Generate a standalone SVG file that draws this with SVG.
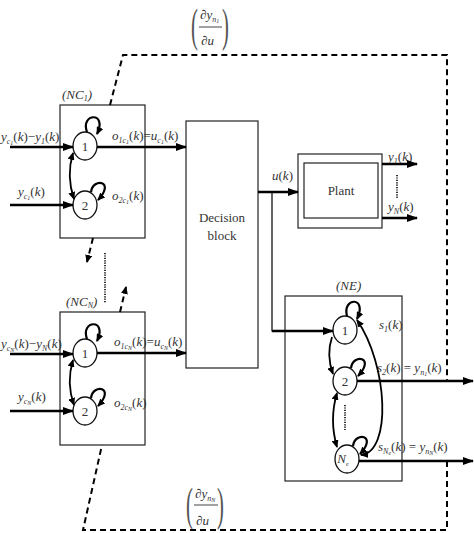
<svg xmlns="http://www.w3.org/2000/svg" width="474" height="533" viewBox="0 0 474 533">
<style>
.t{font-family:"Liberation Serif",serif;font-size:13px;fill:#333}
.i{font-style:italic}
.sb{font-size:8px}
.ss{font-size:6px}
.box{fill:none;stroke:#222;stroke-width:1.2}
.node{fill:#fff;stroke:#111;stroke-width:1.3}
.thick{fill:none;stroke:#000;stroke-width:2.4}
.thin{fill:none;stroke:#000;stroke-width:1.2}
.curve{fill:none;stroke:#000;stroke-width:1.8}
.loop{fill:none;stroke:#000;stroke-width:2.2}
.dash{fill:none;stroke:#000;stroke-width:2;stroke-dasharray:6,4}
.dot{fill:none;stroke:#000;stroke-width:1.6;stroke-dasharray:1.2,1.2}
.par{font-family:"Liberation Serif",serif;font-size:46px;fill:#555}
</style>
<defs>
<marker id="ah" markerUnits="userSpaceOnUse" markerWidth="11" markerHeight="8" refX="10" refY="4" orient="auto-start-reverse">
<path d="M0,0 L11,4 L0,8 z" fill="#000"/>
</marker>
<marker id="as" markerUnits="userSpaceOnUse" markerWidth="8" markerHeight="7" refX="7" refY="3.5" orient="auto-start-reverse">
<path d="M0,0 L8,3.5 L0,7 z" fill="#000"/>
</marker>
</defs>

<!-- Feedback labels -->
<g id="label-top">
<text class="par" transform="translate(191,41) scale(0.45,1)">(</text>
<text class="par" transform="translate(222,41) scale(0.45,1)">)</text>
<text class="t i" x="200" y="19">∂y<tspan class="sb" dy="3">n</tspan><tspan class="ss" dy="1">1</tspan></text>
<line x1="199" y1="27" x2="222" y2="27" stroke="#444" stroke-width="1"/>
<text class="t i" x="201" y="45">∂u</text>
</g>
<g id="label-bottom">
<text class="par" transform="translate(186,520) scale(0.45,1)">(</text>
<text class="par" transform="translate(217,520) scale(0.45,1)">)</text>
<text class="t i" x="195" y="498">∂y<tspan class="sb" dy="3">n</tspan><tspan class="ss" dy="1">N</tspan></text>
<line x1="194" y1="505" x2="218" y2="505" stroke="#444" stroke-width="1"/>
<text class="t i" x="196" y="525">∂u</text>
</g>

<!-- NC1 -->
<g id="NC1">
<rect class="box" x="60" y="105" width="85" height="133"/>
<text class="t i" x="62" y="99">(NC<tspan class="sb" dy="2">1</tspan><tspan dy="-2">)</tspan></text>
<ellipse class="node" cx="85" cy="146" rx="12" ry="14"/>
<text class="t" x="85" y="151" text-anchor="middle" font-size="11">1</text>
<ellipse class="node" cx="85" cy="205" rx="12" ry="14"/>
<text class="t" x="85" y="210" text-anchor="middle" font-size="11">2</text>
<text class="t i" x="112" y="140">o<tspan class="sb" dy="3">1c</tspan><tspan class="ss" dy="1">1</tspan><tspan dy="-4" font-style="normal">(</tspan>k<tspan font-style="normal">)=</tspan>u<tspan class="sb" dy="3">c</tspan><tspan class="ss" dy="1">1</tspan><tspan dy="-4" font-style="normal">(</tspan>k<tspan font-style="normal">)</tspan></text>
<text class="t i" x="112" y="200">o<tspan class="sb" dy="3">2c</tspan><tspan class="ss" dy="1">1</tspan><tspan dy="-4" font-style="normal">(</tspan>k<tspan font-style="normal">)</tspan></text>
</g>

<!-- NCN -->
<g id="NCN">
<rect class="box" x="60" y="312" width="85" height="133"/>
<text class="t i" x="66" y="306">(NC<tspan class="sb" dy="2">N</tspan><tspan dy="-2">)</tspan></text>
<ellipse class="node" cx="85" cy="353" rx="12" ry="14"/>
<text class="t" x="85" y="358" text-anchor="middle" font-size="11">1</text>
<ellipse class="node" cx="85" cy="411" rx="12" ry="14"/>
<text class="t" x="85" y="416" text-anchor="middle" font-size="11">2</text>
<text class="t i" x="114" y="346">o<tspan class="sb" dy="3">1c</tspan><tspan class="ss" dy="1">N</tspan><tspan dy="-4" font-style="normal">(</tspan>k<tspan font-style="normal">)=</tspan>u<tspan class="sb" dy="3">c</tspan><tspan class="ss" dy="1">N</tspan><tspan dy="-4" font-style="normal">(</tspan>k<tspan font-style="normal">)</tspan></text>
<text class="t i" x="114" y="407">o<tspan class="sb" dy="3">2c</tspan><tspan class="ss" dy="1">N</tspan><tspan dy="-4" font-style="normal">(</tspan>k<tspan font-style="normal">)</tspan></text>
</g>

<!-- Input labels -->
<g id="inputs">
<text class="t i" x="1" y="141">y<tspan class="sb" dy="3">c</tspan><tspan class="ss" dy="1">1</tspan><tspan dy="-4" font-style="normal">(</tspan>k<tspan font-style="normal">)−</tspan>y<tspan class="sb" dy="3">1</tspan><tspan dy="-3" font-style="normal">(</tspan>k<tspan font-style="normal">)</tspan></text>
<text class="t i" x="18" y="196">y<tspan class="sb" dy="3">c</tspan><tspan class="ss" dy="1">1</tspan><tspan dy="-4" font-style="normal">(</tspan>k<tspan font-style="normal">)</tspan></text>
<text class="t i" x="1" y="348">y<tspan class="sb" dy="3">c</tspan><tspan class="ss" dy="1">N</tspan><tspan dy="-4" font-style="normal">(</tspan>k<tspan font-style="normal">)−</tspan>y<tspan class="sb" dy="3">N</tspan><tspan dy="-3" font-style="normal">(</tspan>k<tspan font-style="normal">)</tspan></text>
<text class="t i" x="18" y="401">y<tspan class="sb" dy="3">c</tspan><tspan class="ss" dy="1">N</tspan><tspan dy="-4" font-style="normal">(</tspan>k<tspan font-style="normal">)</tspan></text>
</g>

<!-- Decision block -->
<g id="decision">
<rect class="box" x="186" y="121" width="72" height="247"/>
<text class="t" x="222" y="222" text-anchor="middle">Decision</text>
<text class="t" x="222" y="240" text-anchor="middle">block</text>
</g>

<!-- Plant -->
<g id="plant">
<rect class="box" x="298" y="154" width="84" height="74"/>
<rect class="box" x="304" y="163" width="74" height="55"/>
<text class="t" x="341" y="195" text-anchor="middle">Plant</text>
<text class="t i" x="272" y="180">u<tspan font-style="normal">(</tspan>k<tspan font-style="normal">)</tspan></text>
<text class="t i" x="388" y="161">y<tspan class="sb" dy="3">1</tspan><tspan dy="-3" font-style="normal">(</tspan>k<tspan font-style="normal">)</tspan></text>
<text class="t i" x="388" y="211">y<tspan class="sb" dy="3">N</tspan><tspan dy="-3" font-style="normal">(</tspan>k<tspan font-style="normal">)</tspan></text>
</g>

<!-- NE -->
<g id="NE">
<rect class="box" x="285" y="296" width="117" height="185"/>
<text class="t i" x="336" y="290">(NE)</text>
<ellipse class="node" cx="345" cy="330" rx="12" ry="14"/>
<text class="t" x="345" y="335" text-anchor="middle" font-size="11">1</text>
<ellipse class="node" cx="345" cy="381" rx="12" ry="14"/>
<text class="t" x="345" y="386" text-anchor="middle" font-size="11">2</text>
<ellipse class="node" cx="347" cy="459" rx="12" ry="14"/>
<text class="t i" x="343" y="463" text-anchor="middle" font-size="11">N<tspan class="ss" dy="3">e</tspan></text>
<text class="t i" x="379" y="329">s<tspan class="sb" dy="3">1</tspan><tspan dy="-3" font-style="normal">(</tspan>k<tspan font-style="normal">)</tspan></text>
<text class="t i" x="377" y="372">s<tspan class="sb" dy="3">2</tspan><tspan dy="-3" font-style="normal">(</tspan>k<tspan font-style="normal">) = </tspan>y<tspan class="sb" dy="3">n</tspan><tspan class="ss" dy="1">1</tspan><tspan dy="-4" font-style="normal">(</tspan>k<tspan font-style="normal">)</tspan></text>
<text class="t i" x="378" y="451">s<tspan class="sb" dy="3">N</tspan><tspan class="ss" dy="1">e</tspan><tspan dy="-4" font-style="normal">(</tspan>k<tspan font-style="normal">) = </tspan>y<tspan class="sb" dy="3">n</tspan><tspan class="ss" dy="1">N</tspan><tspan dy="-4" font-style="normal">(</tspan>k<tspan font-style="normal">)</tspan></text>
</g>

<!-- Connectors -->
<g id="connectors">
<!-- NC1 -->
<line class="thick" x1="10" y1="147" x2="73" y2="147" marker-end="url(#ah)"/>
<line class="thick" x1="10" y1="205" x2="73" y2="205" marker-end="url(#ah)"/>
<line class="thick" x1="97" y1="147" x2="186" y2="147" marker-end="url(#ah)"/>
<path class="curve" d="M73,153 Q66,176 74,199" marker-start="url(#as)" marker-end="url(#as)"/>
<path class="loop" d="M87,132 C80,113 108,111 97,134" marker-end="url(#as)"/>
<path class="loop" d="M91,192 C93,177 116,181 98,200" marker-end="url(#as)"/>
<!-- NCN -->
<line class="thick" x1="10" y1="354" x2="73" y2="354" marker-end="url(#ah)"/>
<line class="thick" x1="10" y1="411" x2="73" y2="411" marker-end="url(#ah)"/>
<line class="thick" x1="97" y1="353" x2="186" y2="353" marker-end="url(#ah)"/>
<path class="curve" d="M73,360 Q66,383 74,405" marker-start="url(#as)" marker-end="url(#as)"/>
<path class="loop" d="M87,339 C80,320 108,318 97,341" marker-end="url(#as)"/>
<path class="loop" d="M91,398 C93,383 116,387 98,406" marker-end="url(#as)"/>
<!-- between NC1 and NCN -->
<line class="dash" x1="93" y1="238" x2="87" y2="262" marker-end="url(#as)"/>
<line class="dot" x1="105" y1="253" x2="105" y2="303"/>
<line class="dash" x1="120" y1="312" x2="126" y2="287" marker-end="url(#as)"/>
<!-- u(k) -->
<line class="thick" x1="258" y1="192" x2="298" y2="192" marker-end="url(#ah)"/>
<polyline class="thin" points="272,192 272,331 300,331"/>
<line class="thick" x1="272" y1="331" x2="333" y2="331" marker-end="url(#ah)"/>
<!-- plant outputs -->
<line class="thick" x1="382" y1="164" x2="417" y2="164" marker-end="url(#ah)"/>
<line class="thick" x1="382" y1="218" x2="417" y2="218" marker-end="url(#ah)"/>
<line class="dot" x1="397" y1="175" x2="397" y2="199"/>
<!-- NE -->
<path class="curve" d="M332,337 Q326,355 333,374" marker-end="url(#as)"/>
<path class="curve" d="M337,393 Q329,420 337,447" marker-start="url(#as)" marker-end="url(#as)"/>
<path class="curve" d="M361,455 C392,452 388,365 357,320" marker-start="url(#as)" marker-end="url(#as)"/>
<path class="loop" d="M347,316 C342,297 368,296 357,319" marker-end="url(#as)"/>
<path class="loop" d="M351,368 C353,353 376,357 358,376" marker-end="url(#as)"/>
<path class="loop" d="M353,446 C355,431 378,435 360,454" marker-end="url(#as)"/>
<line class="dot" x1="345" y1="405" x2="345" y2="430"/>
<line class="thick" x1="357" y1="381" x2="473" y2="381" marker-end="url(#ah)"/>
<line class="thick" x1="359" y1="461" x2="473" y2="461" marker-end="url(#ah)"/>
<!-- feedback dashed -->
<polyline class="dash" points="110,105 123,55 447,55 447,381"/>
<polyline class="dash" points="447,461 447,530 83,530 102,445"/>
</g>
</svg>
